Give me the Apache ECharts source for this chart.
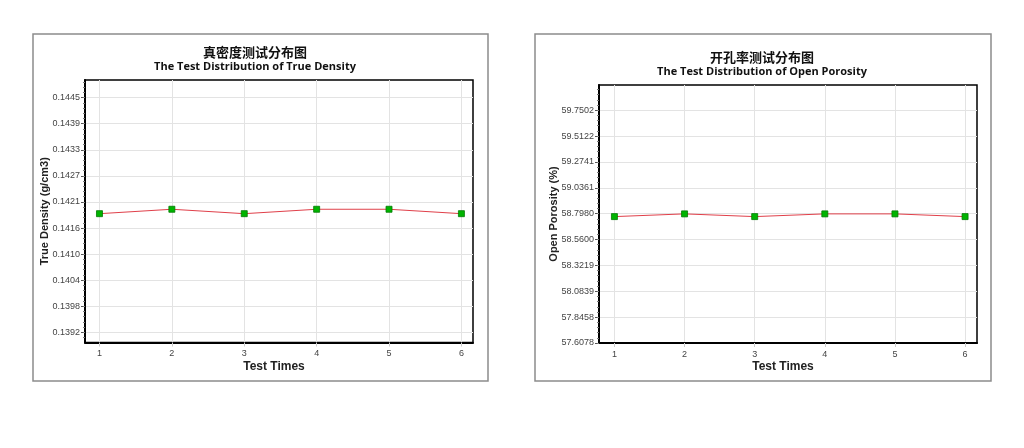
<!DOCTYPE html>
<html><head><meta charset="utf-8">
<script src="https://cdn.jsdelivr.net/npm/echarts@6/dist/echarts.min.js"></script>
<style>html,body{margin:0;padding:0;background:#fff}#c{width:1024px;height:448px}</style>
</head><body><div id="c"></div>
<script>
// ---- data ----
const testTimes = [1, 2, 3, 4, 5, 6];
const trueDensity = [0.14188, 0.14198, 0.14188, 0.14198, 0.14198, 0.14188];
const openPorosity = [58.771, 58.796, 58.771, 58.796, 58.796, 58.771];
const densityTicks = [0.139200, 0.139789, 0.140378, 0.140967, 0.141556, 0.142145, 0.142734, 0.143323, 0.143912, 0.144501];
const densityTickLabels = ['0.1392', '0.1398', '0.1404', '0.1410', '0.1416', '0.1421', '0.1427', '0.1433', '0.1439', '0.1445'];
const porosityTicks = [57.6078, 57.845845, 58.08389, 58.321935, 58.55998, 58.798025, 59.03607, 59.274115, 59.51216, 59.750205];
const porosityTickLabels = ['57.6078', '57.8458', '58.0839', '58.3219', '58.5600', '58.7980', '59.0361', '59.2741', '59.5122', '59.7502'];

// ---- helpers ----
function labelFor(ticks, labels) {
  return function (v) {
    let best = 0, bd = Infinity;
    ticks.forEach((t, i) => { const d = Math.abs(t - v); if (d < bd) { bd = d; best = i; } });
    return labels[best];
  };
}
function minorOf(ticks, min, max) {
  const step = (ticks[1] - ticks[0]) / 5;
  const out = [];
  for (let v = ticks[0] - step * 10; v <= max + 1e-12; v += step) {
    if (v >= min - 1e-12) out.push(v);
  }
  return out;
}
const labelFont = { fontFamily: 'Liberation Sans', fontSize: 9, color: '#444' };
const nameFontY = { fontFamily: 'Liberation Sans', fontSize: 11, fontWeight: 'bold', color: '#222' };
const nameFontX = { fontFamily: 'Liberation Sans', fontSize: 12, fontWeight: 'bold', color: '#222' };

const dMin = 0.13897, dMax = 0.14490;
const pMin = 57.6078, pMax = 59.982;

function xAxisCfg(gi, min, max) {
  return {
    type: 'value', gridIndex: gi, min: min, max: max,
    name: 'Test Times', nameLocation: 'middle', nameGap: 18, nameMoveOverlap: false,
    nameTextStyle: Object.assign({ padding: [0, 10, 0, 0] }, nameFontX),
    axisLine: { onZero: false, lineStyle: { color: '#000', width: 2 } },
    axisTick: { show: true, length: 4, inside: false, customValues: testTimes, lineStyle: { color: '#ccc' } },
    axisLabel: { customValues: testTimes, margin: 7, ...labelFont },
    splitLine: { show: true, lineStyle: { color: '#e3e3e3', width: 1 } }
  };
}
function yAxisCfg(gi, min, max, ticks, labels, name, gap) {
  return {
    type: 'value', gridIndex: gi, min: min, max: max, position: 'left',
    name: name, nameLocation: 'middle', nameGap: gap, nameMoveOverlap: false, nameTextStyle: nameFontY,
    axisLine: { onZero: false, lineStyle: { color: '#000', width: 2 } },
    axisTick: { show: true, length: 4, customValues: ticks, lineStyle: { color: '#555' } },
    axisLabel: { customValues: ticks, margin: 5, formatter: labelFor(ticks, labels), ...labelFont },
    splitLine: { show: true, lineStyle: { color: '#e3e3e3', width: 1 } }
  };
}
// minor ticks: an extra axis placed on the right side but shifted onto the left edge
function yMinorCfg(gi, min, max, ticks, plotWidth) {
  return {
    type: 'value', gridIndex: gi, min: min, max: max, position: 'right', offset: -plotWidth,
    axisLine: { show: false },
    axisTick: { show: true, inside: true, length: 2, customValues: minorOf(ticks, min, max), lineStyle: { color: '#777' } },
    axisLabel: { show: false },
    splitLine: { show: false }
  };
}
function lineSeries(xi, yi, vals) {
  return {
    type: 'line', xAxisIndex: xi, yAxisIndex: yi,
    data: testTimes.map((x, i) => [x, vals[i]]),
    symbol: 'rect', symbolSize: 6,
    lineStyle: { color: '#e0404a', width: 1 },
    itemStyle: { color: '#00b400', borderColor: '#007a00', borderWidth: 0.8 },
    emphasis: { disabled: true }, animation: false
  };
}

const chart = echarts.init(document.getElementById('c'), null, { renderer: 'canvas' });
chart.setOption({
  animation: false,
  backgroundColor: '#fff',
  grid: [
    { left: 85, top: 80, width: 388, height: 262.5, show: true, borderColor: '#000', borderWidth: 1.5, containLabel: false },
    { left: 599, top: 85, width: 378, height: 258, show: true, borderColor: '#000', borderWidth: 1.5, containLabel: false }
  ],
  xAxis: [xAxisCfg(0, 0.8, 6.16), xAxisCfg(1, 0.78, 6.17)],
  yAxis: [
    yAxisCfg(0, dMin, dMax, densityTicks, densityTickLabels, 'True Density (g/cm3)', 35),
    yMinorCfg(0, dMin, dMax, densityTicks, 388),
    yAxisCfg(1, pMin, pMax, porosityTicks, porosityTickLabels, 'Open Porosity (%)', 40),
    yMinorCfg(1, pMin, pMax, porosityTicks, 378)
  ],
  series: [lineSeries(0, 0, trueDensity), lineSeries(1, 2, openPorosity)],
  graphic: [
    { type: 'rect', silent: true, shape: { x: 33, y: 34, width: 455, height: 347 }, style: { fill: 'none', stroke: '#8c8c8c', lineWidth: 1.5 } },
    { type: 'rect', silent: true, shape: { x: 535, y: 34, width: 456, height: 347 }, style: { fill: 'none', stroke: '#8c8c8c', lineWidth: 1.5 } },
    { type: 'text', x: 255, y: 52, style: { text: '真密度测试分布图', font: 'bold 13px "Noto Sans CJK SC"', fill: '#111', textAlign: 'center', textVerticalAlign: 'middle' } },
    { type: 'text', x: 255, y: 66.5, style: { text: 'The Test Distribution of True Density', font: 'bold 11px "Open Sans"', fill: '#111', textAlign: 'center', textVerticalAlign: 'middle' } },
    { type: 'text', x: 762, y: 57, style: { text: '开孔率测试分布图', font: 'bold 13px "Noto Sans CJK SC"', fill: '#111', textAlign: 'center', textVerticalAlign: 'middle' } },
    { type: 'text', x: 762, y: 71.5, style: { text: 'The Test Distribution of Open Porosity', font: 'bold 11px "Open Sans"', fill: '#111', textAlign: 'center', textVerticalAlign: 'middle' } }
  ]
});
</script>
</body></html>
